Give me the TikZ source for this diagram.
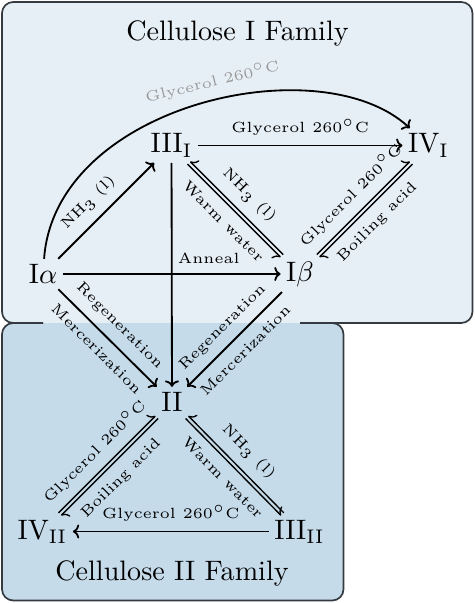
\documentclass[tikz,border=0pt]{standalone}
\usetikzlibrary{arrows.meta}
\definecolor{famI}{RGB}{231,239,246}
\definecolor{famII}{RGB}{197,219,234}
\definecolor{boxline}{RGB}{52,58,64}

\begin{document}
\begin{tikzpicture}[
    x=0.025cm, y=-0.025cm,
    phase/.style={font=\normalsize, scale=2, inner sep=1.8pt},
    cond/.style={font=\tiny, scale=2.1, inner sep=2.8pt},
    family/.style={font=\normalsize, scale=2},
    arr/.style={line width=1.3pt, -{To[length=4.5pt,width=10pt]}},
    hl/.style={line width=0.95pt, -{To[left,length=4.5pt,width=10pt]}},
    hr/.style={line width=0.95pt, -{To[right,length=4.5pt,width=10pt]}},
    offNE/.style={transform canvas={shift={(0.95pt,0.95pt)}}},
    offSW/.style={transform canvas={shift={(-0.95pt,-0.95pt)}}},
    offNW/.style={transform canvas={shift={(-0.95pt,0.95pt)}}},
    offSE/.style={transform canvas={shift={(0.95pt,-0.95pt)}}},
]
\useasboundingbox (0,0) rectangle (474,603);
% family panels
\fill[famI, rounded corners=8pt] (2,2) rectangle (472.5,323);
\fill[famII, rounded corners=8pt] (2,323) rectangle (343.5,600.5);
\draw[boxline, line width=1.2pt, rounded corners=8pt] (43,323) -- (2,323) -- (2,2) -- (472.5,2) -- (472.5,323) -- (300,323);
\draw[boxline, line width=1.2pt, rounded corners=8pt] (300,323) -- (343.5,323) -- (343.5,600.5) -- (2,600.5) -- (2,323) -- (43,323);
\node[family] (titleI) at (237.5,33) {Cellulose I Family};
\node[family] (titleII) at (172,573) {Cellulose II Family};

% polymorphs
\node[phase] (Ia) at (43,274) {I$\alpha$};
\node[phase] (IIIi) at (171.5,145.5) {III$_{\mathrm{I}}$};
\node[phase] (IVi) at (428.5,145.5) {IV$_{\mathrm{I}}$};
\node[phase] (Ib) at (300,274) {I$\beta$};
\node[phase] (II) at (172,402) {II};
\node[phase] (IVii) at (42.5,531.5) {IV$_{\mathrm{II}}$};
\node[phase] (IIIii) at (299.5,531.5) {III$_{\mathrm{II}}$};

% one-way conversions
\draw[arr] (Ia) .. controls (55,105) and (320,45) .. node[cond, sloped, above, pos=0.54, text=black!40] {Glycerol 260$^\circ$C} (IVi);
\draw[arr] (Ia) -- node[cond, sloped, above, pos=0.45] {NH$_3$ (l)} (IIIi);
\draw[arr] (IIIi) -- node[cond, above] {Glycerol 260$^\circ$C} (IVi);
\draw[arr] (Ia) -- node[cond, above, pos=0.67] {Anneal} (Ib);
\draw[arr] (IIIi) -- (II);
\draw[arr] (Ia) -- node[cond, sloped, above] {Regeneration} node[cond, sloped, below] {Mercerization} (II);
\draw[arr] (Ib) -- node[cond, sloped, above] {Regeneration} node[cond, sloped, below] {Mercerization} (II);
\draw[arr] (IIIii) -- node[cond, above] {Glycerol 260$^\circ$C} (IVii);

% reversible pairs
\draw[hr, offNE] (Ib) -- node[cond, sloped, above] {NH$_3$ (l)} (IIIi);
\draw[hr, offSW] (IIIi) -- node[cond, sloped, below] {Warm water} (Ib);
\draw[hl, offNW] (Ib) -- node[cond, sloped, above] {Glycerol 260$^\circ$C} (IVi);
\draw[hl, offSE] (IVi) -- node[cond, sloped, below] {Boiling acid} (Ib);
\draw[hl, offNW] (IVii) -- node[cond, sloped, above] {Glycerol 260$^\circ$C} (II);
\draw[hl, offSE] (II) -- node[cond, sloped, below] {Boiling acid} (IVii);
\draw[hr, offNE] (IIIii) -- node[cond, sloped, above] {NH$_3$ (l)} (II);
\draw[hl, offSW] (II) -- node[cond, sloped, below] {Warm water} (IIIii);
\end{tikzpicture}
\end{document}
